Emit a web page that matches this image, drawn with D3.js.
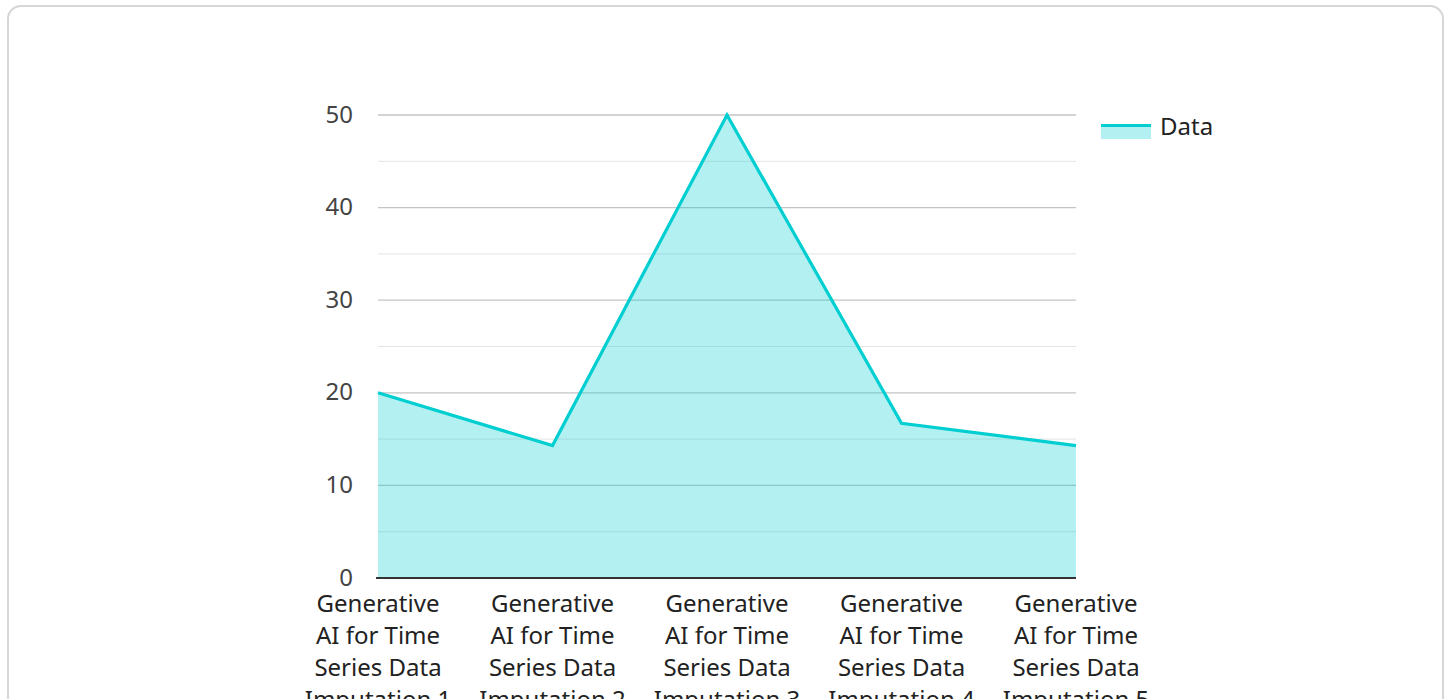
<!DOCTYPE html>
<html>
<head>
<meta charset="utf-8">
<script src="https://cdn.jsdelivr.net/npm/d3@7"></script>
<style>
  html, body { margin: 0; padding: 0; background: #fff; overflow: hidden; }
  body { width: 1450px; height: 699px; font-family: "Noto Sans", "Open Sans", sans-serif; }
  .card { position: absolute; left: 7px; top: 5px; width: 1437px; height: 720px;
          border: 2px solid #d6d6d6; border-radius: 14px; box-sizing: border-box; }
  svg { position: absolute; left: 0; top: 0; }
</style>
</head>
<body>
<div class="card"></div>
<svg id="chart" width="1450" height="699"></svg>
<script>
// Series
const categories = [
  "Generative AI for Time Series Data Imputation 1",
  "Generative AI for Time Series Data Imputation 2",
  "Generative AI for Time Series Data Imputation 3",
  "Generative AI for Time Series Data Imputation 4",
  "Generative AI for Time Series Data Imputation 5"
];
const values = [20, 14.3, 50, 16.7, 14.3];
const majorTicks = [0, 10, 20, 30, 40, 50];
const minorTicks = [5, 15, 25, 35, 45];
const seriesName = "Data";

const lineColor = "#00ced1";
const fillColor = "rgba(0, 206, 209, 0.3)";

const svg = d3.select("#chart");
const plot = { left: 378, right: 1076, top: 115, bottom: 578 };

const x = d3.scalePoint().domain(categories).range([plot.left, plot.right]);
const y = d3.scaleLinear().domain([0, 50]).range([plot.bottom, plot.top]);

// Minor gridlines
svg.append("g").selectAll("line").data(minorTicks).join("line")
  .attr("x1", plot.left).attr("x2", plot.right)
  .attr("y1", d => y(d)).attr("y2", d => y(d))
  .attr("stroke", "#e4e4e4").attr("stroke-width", 1);

// Major gridlines
svg.append("g").selectAll("line").data(majorTicks.filter(d => d > 0)).join("line")
  .attr("x1", plot.left).attr("x2", plot.right)
  .attr("y1", d => y(d)).attr("y2", d => y(d))
  .attr("stroke", "#c4c4c4").attr("stroke-width", 1.3);

// Y tick labels
svg.append("g").selectAll("text").data(majorTicks).join("text")
  .attr("x", 353).attr("y", d => y(d) - 1)
  .attr("dy", "0.36em")
  .attr("text-anchor", "end")
  .attr("font-size", 24)
  .attr("fill", "#444")
  .text(d => d);

// Area and line
const pts = categories.map((c, i) => ({ c, v: values[i] }));
svg.append("path").datum(pts)
  .attr("fill", fillColor)
  .attr("d", d3.area().x(d => x(d.c)).y0(y(0)).y1(d => y(d.v)));

svg.append("path").datum(pts)
  .attr("fill", "none")
  .attr("stroke", lineColor)
  .attr("stroke-width", 3.2)
  .attr("stroke-linejoin", "miter")
  .attr("d", d3.line().x(d => x(d.c)).y(d => y(d.v)));

// Baseline axis
svg.append("line")
  .attr("x1", plot.left - 2).attr("x2", plot.right)
  .attr("y1", y(0)).attr("y2", y(0))
  .attr("stroke", "#333").attr("stroke-width", 2);

// X labels, wrapped into lines
function splitLabel(label) {
  const n = label.split(" ").pop();
  return ["Generative", "AI for Time", "Series Data", "Imputation " + n];
}
const xl = svg.append("g").selectAll("text").data(categories).join("text")
  .attr("text-anchor", "middle")
  .attr("font-size", 24)
  .attr("fill", "#222");
xl.each(function(d) {
  const t = d3.select(this);
  splitLabel(d).forEach((line, i) => {
    t.append("tspan").attr("x", x(d)).attr("y", 612 + i * 32).text(line);
  });
});

// Legend
const lg = svg.append("g");
lg.append("rect").attr("x", 1101).attr("y", 124).attr("width", 50).attr("height", 15)
  .attr("fill", fillColor);
lg.append("line").attr("x1", 1101).attr("x2", 1151).attr("y1", 125.5).attr("y2", 125.5)
  .attr("stroke", lineColor).attr("stroke-width", 3);
lg.append("text").attr("x", 1160).attr("y", 135)
  .attr("font-size", 24).attr("fill", "#222").text(seriesName);
</script>
</body>
</html>
